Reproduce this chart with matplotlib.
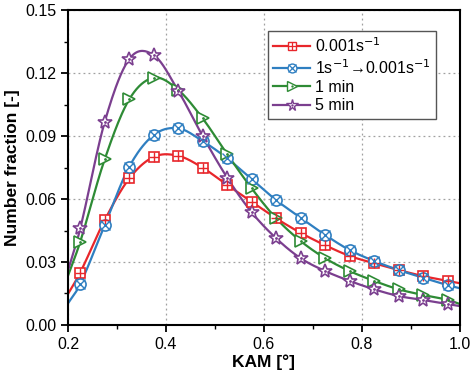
import matplotlib
matplotlib.use('agg')
import matplotlib.pyplot as plt
from matplotlib.legend_handler import HandlerTuple
import numpy as np

plt.rcParams['font.family'] = ['Liberation Sans', 'DejaVu Sans']

# KAM positions of the markers
kam = [0.225, 0.275, 0.325, 0.375, 0.425, 0.475, 0.525, 0.575,
       0.625, 0.675, 0.725, 0.775, 0.825, 0.875, 0.925, 0.975]

rate_001 = [0.025, 0.050, 0.0698, 0.0801, 0.0806, 0.0749, 0.0667, 0.0587,
            0.0508, 0.0439, 0.0380, 0.0329, 0.0294, 0.0262, 0.0233, 0.0210]
rate_jump = [0.0195, 0.0476, 0.0754, 0.0905, 0.0937, 0.0876, 0.0794, 0.0695,
             0.0595, 0.0511, 0.0429, 0.0357, 0.0305, 0.0262, 0.0225, 0.0190]
hold_1min = [0.0397, 0.0790, 0.1075, 0.1178, 0.1120, 0.0984, 0.0814, 0.0651,
             0.0508, 0.0400, 0.0318, 0.0257, 0.0210, 0.0170, 0.0143, 0.0120]
hold_5min = [0.0460, 0.0968, 0.1267, 0.1286, 0.1116, 0.0900, 0.0702, 0.0537,
             0.0413, 0.0318, 0.0257, 0.0210, 0.0170, 0.0138, 0.0119, 0.0100]

# where the curves meet the left (KAM 0.2) and right (KAM 1.0) axis edges
edge_left = [0.0148, 0.0103, 0.0235, 0.026]
edge_right = [0.0199, 0.0175, 0.010, 0.009]

labels = ['0.001s$^{-1}$', '1s$^{-1}$\u21920.001s$^{-1}$', '1 min', '5 min']
colors = ['#e8262b', '#2f7fc1', '#2e8b35', '#7b3f8f']


def smooth(x, y, n=20):
    x = np.asarray(x, float)
    y = np.asarray(y, float)
    m = np.zeros_like(y)
    m[1:-1] = (y[2:] - y[:-2]) / (x[2:] - x[:-2])
    m[0] = (y[1] - y[0]) / (x[1] - x[0])
    m[-1] = (y[-1] - y[-2]) / (x[-1] - x[-2])
    xs, ys = [], []
    for i in range(len(x) - 1):
        h = x[i + 1] - x[i]
        t = np.linspace(0, 1, n, endpoint=False)
        h00 = 2 * t**3 - 3 * t**2 + 1
        h10 = t**3 - 2 * t**2 + t
        h01 = -2 * t**3 + 3 * t**2
        h11 = t**3 - t**2
        xs.append(x[i] + t * h)
        ys.append(h00 * y[i] + h10 * h * m[i] + h01 * y[i + 1] + h11 * h * m[i + 1])
    xs.append([x[-1]])
    ys.append([y[-1]])
    return np.concatenate(xs), np.concatenate(ys)


fig = plt.figure(figsize=(4.74, 3.77), dpi=100)
ax = fig.add_axes([0.1435, 0.138, 0.8265, 0.835])

series = [rate_001, rate_jump, hold_1min, hold_5min]
main_mk = ['s', 'o', '>', '*']
inner_mk = ['+', 'x', '.', '.']
main_ms = [7, 8, 9, 10.5]
inner_ms = [7, 7, 2, 2]
handles = []
for k, vals in enumerate(series):
    c = colors[k]
    xl = [0.2] + kam + [1.0]
    yl = [edge_left[k]] + vals + [edge_right[k]]
    sx, sy = smooth(xl, yl)
    ax.plot(sx, sy, color=c, lw=1.6, zorder=2)
    ax.plot(kam, vals, ls='none', marker=main_mk[k], ms=main_ms[k], mfc='white',
            mec=c, mew=1.2, zorder=3)
    ax.plot(kam, vals, ls='none', marker=inner_mk[k], ms=inner_ms[k], color=c,
            mew=1.0, zorder=4)
    h1 = plt.Line2D([], [], color=c, lw=1.6, marker=main_mk[k], ms=main_ms[k] * 0.8,
                    mfc='white', mec=c, mew=1.0)
    h2 = plt.Line2D([], [], ls='none', marker=inner_mk[k], ms=inner_ms[k] * 0.8,
                    color=c, mew=0.9)
    handles.append((h1, h2))

ax.set_xlim(0.2, 1.0)
ax.set_ylim(0, 0.15)
ax.set_xticks([0.2, 0.4, 0.6, 0.8, 1.0])
ax.set_xticklabels(['0.2', '0.4', '0.6', '0.8', '1.0'])
ax.set_xticks([0.3, 0.5, 0.7, 0.9], minor=True)
ax.set_yticks([0, 0.03, 0.06, 0.09, 0.12, 0.15])
ax.set_yticklabels(['0.00', '0.03', '0.06', '0.09', '0.12', '0.15'])
ax.set_yticks([0.015, 0.045, 0.075, 0.105, 0.135], minor=True)
ax.tick_params(which='major', direction='out', length=5, width=1.3, labelsize=11.5)
ax.tick_params(which='minor', direction='out', length=3, width=1.0)
for s in ax.spines.values():
    s.set_linewidth(1.5)
ax.grid(True, which='major', ls=(0, (1.5, 2.5)), color='#a0a0a0', lw=0.9)

ax.set_xlabel('KAM [\u00b0]', fontsize=12.5, fontweight='bold', labelpad=2)
ax.set_ylabel('Number fraction [-]', fontsize=12.5, fontweight='bold', labelpad=4)

leg = ax.legend(handles, labels, handler_map={tuple: HandlerTuple(ndivide=1, pad=0)},
                loc='upper left', bbox_to_anchor=(0.51, 0.935), fontsize=11.5,
                handlelength=2.3, handletextpad=0.3, labelspacing=0.2,
                borderpad=0.35, borderaxespad=0, fancybox=False, framealpha=1,
                edgecolor='#555555')
leg.get_frame().set_linewidth(1.0)

fig.savefig('out.png', dpi=100)
